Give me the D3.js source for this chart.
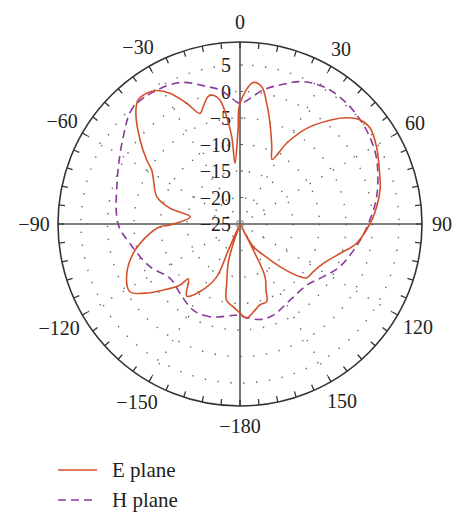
<!DOCTYPE html>
<html>
<head>
<meta charset="utf-8">
<script src="https://cdn.jsdelivr.net/npm/d3@7"></script>
<style>
  body { margin: 0; background: #fff; }
  text { font-family: "Liberation Serif", "DejaVu Serif", serif; fill: #222; }
</style>
</head>
<body>
<div class="chart"></div>
<script>
// E plane (angle in degrees, clockwise from top; gain in dB)
var eAngles = [0, 5.4, 9, 12.5, 16.6, 22.3, 26.5, 30, 34.9, 40.9, 45.1, 49.1, 53.6, 60.5, 68.8, 76.3, 85.3, 90,
  99.4, 106.3, 115.3, 123, 128.8, 131.3, 136.9, 143, 149.6, 151, 152.9, 154.6, 158.5, 161, 166.1, 170.1, 176, 180,
  -175.4, -170, -167.4, -163, -161, -157, -156, -156.2, -149.4, -143.5, -136.8, -135.5, -130.7, -126, -121.6,
  -114.9, -105.4, -95.9, -91.9, -90.8, -81.7, -77.4, -71.9, -63.1, -58.6, -55.6, -50, -43.2, -39.4, -35.5, -32,
  -28.2, -23.8, -19.9, -17.4, -14, -11.7, -9.2, -7.1, -5.4, -4.7, -1.2];
var eValues = [-2.2, 1.8, 1.2, -1.7, -5.2, -9.2, -11.4, -7.4, -3.0, 0.9, 3.4, 5.0, 5.5, 4.6, 3.2, 2.2, 0.5, -0.5,
  -2.7, -5.3, -7.6, -8.5, -8.8, -9.9, -14.0, -17.7, -20.0, -25, -19.5, -14.0, -11.6, -9.5, -9.3, -8.5, -7.2, -8.2,
  -9.3, -10.4, -13.5, -17.5, -21, -25, -19.6, -14.1, -10.2, -8.1, -10.8, -8.8, -5.9, -2.8, -0.6,
  -1.4, -4.1, -7.9, -9.9, -11.8, -15.5, -11.5, -8.5, -6.7, -5.5, -3.7, -0.4, 3.7, 5.3, 5.3, 4.7,
  3.0, -0.1, -2.8, -1.8, -0.2, -0.2, -1.3, -4.6, -8.5, -13.5, -7.3];

// H plane
var hAngles = [-180, -162, -151.5, -139.1, -127.8, -115.4, -100, -90, -70.3, -53.2, -43, -33.4, -23, -13.6, -8.5, -4.5,
  0, 9.9, 17.2, 24, 32.6, 41.5, 49.1, 56.1, 64.9, 78.7, 90, 99.3, 113.1, 122.3, 132.4, 146.7, 159.9, 168.1, 178];
var hValues = [-7.8, -6.6, -6.5, -7.7, -8.3, -6.2, -3.9, -2.0, -0.4, 2.5, 4.8, 4.8, 4.0, 1.7, 0.6, -0.9,
  -2.2, 0.7, 2.6, 4.4, 5.4, 5.4, 5.0, 4.5, 3.5, 1.3, -0.8, -2.4, -4.5, -6.4, -7.9, -7.8, -6.7, -6.6, -7.5];

var radialTicks = [5, 0, -5, -10, -15, -20, -25];
var angleTicks = [0, 30, 60, 90, 120, 150, 180, -150, -120, -90, -60, -30];
var angleLabels = ["0", "30", "60", "90", "120", "150", "\u2212180", "\u2212150", "\u2212120", "\u221290", "\u221260", "\u221230"];
var seriesNames = ["E plane", "H plane"];

var width = 474, height = 530;
var cx = 240, cy = 224, R = 182;
var rad = Math.PI / 180;

var svg = d3.select(".chart").append("svg")
    .attr("width", width)
    .attr("height", height);

var g = svg.append("g")
    .attr("transform", "translate(" + cx + "," + cy + ")");

// radial scale, -25 dB at the centre
var r = d3.scaleLinear()
    .domain([-25, 9.34])
    .range([0, R]);

// dotted grid circles
g.selectAll(".grid-circle")
    .data(radialTicks.filter(function(d) { return d > -25; }))
    .enter().append("circle")
    .attr("r", function(d) { return r(d); })
    .attr("fill", "none")
    .attr("stroke", "#666")
    .attr("stroke-width", 1.4)
    .attr("stroke-dasharray", "1.4,11.5");

// dotted spokes every 30 degrees (not on the axes)
g.selectAll(".grid-spoke")
    .data(angleTicks.filter(function(d) { return d % 90 != 0; }))
    .enter().append("line")
    .attr("x1", 0).attr("y1", 0)
    .attr("x2", function(d) { return R * Math.sin(d * rad); })
    .attr("y2", function(d) { return -R * Math.cos(d * rad); })
    .attr("stroke", "#666")
    .attr("stroke-width", 1.4)
    .attr("stroke-dasharray", "1.4,12");

// axes through the centre
g.append("line").attr("x1", -R).attr("x2", R).attr("y1", 0).attr("y2", 0)
    .attr("stroke", "#555").attr("stroke-width", 1.6);
g.append("line").attr("x1", 0).attr("x2", 0).attr("y1", -R).attr("y2", R)
    .attr("stroke", "#555").attr("stroke-width", 1.6);

// outer circle and its ticks
g.append("circle").attr("r", R)
    .attr("fill", "none").attr("stroke", "#333").attr("stroke-width", 1.6);

g.selectAll(".outer-tick")
    .data(d3.range(0, 360, 6))
    .enter().append("line")
    .attr("x1", function(d) { return R * Math.sin(d * rad); })
    .attr("y1", function(d) { return -R * Math.cos(d * rad); })
    .attr("x2", function(d) { return (R - 6) * Math.sin(d * rad); })
    .attr("y2", function(d) { return -(R - 6) * Math.cos(d * rad); })
    .attr("stroke", "#333").attr("stroke-width", 1.3);

// small ticks on the vertical axis
g.selectAll(".r-tick")
    .data(radialTicks.filter(function(d) { return d > -25; }))
    .enter().append("line")
    .attr("x1", 0).attr("x2", 3)
    .attr("y1", function(d) { return -r(d); })
    .attr("y2", function(d) { return -r(d); })
    .attr("stroke", "#555").attr("stroke-width", 1);

// radial labels
g.selectAll(".r-label")
    .data(radialTicks)
    .enter().append("text")
    .attr("x", -9)
    .attr("y", function(d) { return -r(d); })
    .attr("dy", "0.35em")
    .attr("text-anchor", "end")
    .style("font-size", "20px")
    .text(function(d) { return d < 0 ? "\u2212" + Math.abs(d) : d; });

// angle labels
g.selectAll(".a-label")
    .data(angleTicks)
    .enter().append("text")
    .attr("x", function(d, i) {
        var rr = 202 + (angleLabels[i].length - 2) * 4 * Math.abs(Math.sin(d * rad));
        return rr * Math.sin(d * rad);
    })
    .attr("y", function(d, i) {
        var rr = 202 + (angleLabels[i].length - 2) * 4 * Math.abs(Math.sin(d * rad));
        return -rr * Math.cos(d * rad);
    })
    .attr("dy", "0.35em")
    .attr("text-anchor", "middle")
    .style("font-size", "20px")
    .text(function(d, i) { return angleLabels[i]; });

// curves
var line = d3.lineRadial()
    .angle(function(d) { return d[0] * rad; })
    .radius(function(d) { return r(d[1]); })
    .curve(d3.curveCatmullRomClosed.alpha(0.5));

var hData = hAngles.map(function(a, i) { return [a, hValues[i]]; });
var eData = eAngles.map(function(a, i) { return [a, eValues[i]]; });

g.append("path")
    .datum(hData)
    .attr("d", line)
    .attr("fill", "none")
    .attr("stroke", "#8a3a9a")
    .attr("stroke-width", 1.6)
    .attr("stroke-dasharray", "8,5");

g.append("path")
    .datum(eData)
    .attr("d", line)
    .attr("fill", "none")
    .attr("stroke", "#d4502a")
    .attr("stroke-width", 1.6);

// centre marker
g.append("circle").attr("r", 3.5)
    .attr("fill", "none").attr("stroke", "#888").attr("stroke-width", 1.2);

// legend
var legend = svg.append("g").attr("transform", "translate(58,470)");
legend.selectAll(".leg-line")
    .data(seriesNames)
    .enter().append("line")
    .attr("x1", 0).attr("x2", 39)
    .attr("y1", function(d, i) { return i * 30; })
    .attr("y2", function(d, i) { return i * 30; })
    .attr("stroke", function(d, i) { return i == 0 ? "#d4502a" : "#8a3a9a"; })
    .attr("stroke-width", 1.6)
    .attr("stroke-dasharray", function(d, i) { return i == 0 ? null : "8,5"; });
legend.selectAll(".leg-text")
    .data(seriesNames)
    .enter().append("text")
    .attr("x", 54)
    .attr("y", function(d, i) { return i * 30; })
    .attr("dy", "0.35em")
    .style("font-size", "21px")
    .text(function(d) { return d; });
</script>
</body>
</html>
